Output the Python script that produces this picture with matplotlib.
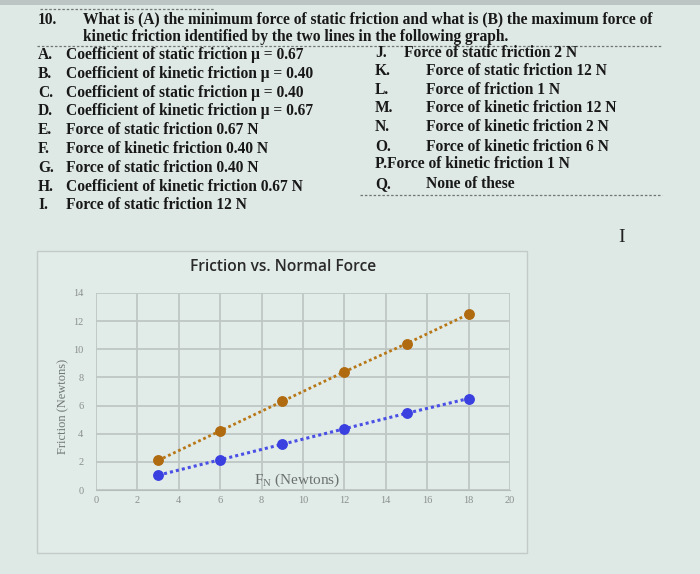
import matplotlib
matplotlib.use("Agg")
import matplotlib.pyplot as plt
from matplotlib.lines import Line2D
from matplotlib.patches import Rectangle

# ---- data ----
normal_force = [3, 6, 9, 12, 15, 18]
static_friction = [2.1, 4.2, 6.3, 8.4, 10.4, 12.5]
kinetic_friction = [1.05, 2.15, 3.25, 4.35, 5.45, 6.5]
x_ticks = [0, 2, 4, 6, 8, 10, 12, 14, 16, 18, 20]
y_ticks = [0, 2, 4, 6, 8, 10, 12, 14]

question_num = "10."
question_lines = [
    "What is (A) the minimum force of static friction and what is (B) the maximum force of",
    "kinetic friction identified by the two lines in the following graph.",
]
left_letters = ["A.", "B.", "C.", "D.", "E.", "F.", "G.", "H.", "I."]
left_texts = [
    "Coefficient of static friction \u03bc = 0.67",
    "Coefficient of kinetic friction \u03bc = 0.40",
    "Coefficient of static friction \u03bc = 0.40",
    "Coefficient of kinetic friction \u03bc = 0.67",
    "Force of static friction 0.67 N",
    "Force of kinetic friction 0.40 N",
    "Force of static friction 0.40 N",
    "Coefficient of kinetic friction 0.67 N",
    "Force of static friction 12 N",
]
right_letters = ["J.", "K.", "L.", "M.", "N.", "O.", "", "Q."]
right_texts = [
    "Force of static friction 2 N",
    "Force of static friction 12 N",
    "Force of friction 1 N",
    "Force of kinetic friction 12 N",
    "Force of kinetic friction 2 N",
    "Force of kinetic friction 6 N",
    "P.Force of kinetic friction 1 N",
    "None of these",
]

W, H = 700, 574
bg = "#dee8e5"
fig = plt.figure(figsize=(7, 5.74), dpi=100, facecolor=bg)

def fx(px):
    return px / W

def fy(py):
    return 1 - py / H

serif = ["Liberation Serif", "DejaVu Serif"]
tc = "#181818"
fs = 11.2
fw = "bold"

# top shading band
fig.patches.append(Rectangle((0, fy(5)), 1, 5 / H, transform=fig.transFigure,
                             facecolor="#bcc5c3", edgecolor="none", zorder=-2))

def T(px, py, s, **kw):
    fig.text(fx(px), fy(py), s, family=serif, fontsize=fs, color=tc, va="center",
             fontweight=fw, **kw)

# question text
T(38, 20, question_num)
T(83, 19, question_lines[0])
T(83, 37, question_lines[1])

# dotted rules
for (x0, x1, y) in [(40, 215, 9), (37, 662, 46), (360, 662, 195)]:
    fig.lines.append(Line2D([fx(x0), fx(x1)], [fy(y), fy(y)], transform=fig.transFigure,
                            color="#6f7775", lw=0.9, linestyle=(0, (2, 1.5))))

y0, dy = 55, 18.8
for i, (l, t) in enumerate(zip(left_letters, left_texts)):
    T(38, y0 + i * dy, l)
    T(66, y0 + i * dy, t)

ry = [53, 71, 90, 108, 127, 147, 164, 184]
for i, (l, t) in enumerate(zip(right_letters, right_texts)):
    if i == 0:
        T(375, ry[i], l)
        T(404, ry[i], t)
    elif l == "":
        T(375, ry[i], t)
    else:
        T(375, ry[i], l)
        T(426, ry[i], t)

# cursor glyph
fig.text(fx(622), fy(238), "I", family=serif, fontsize=14, color="#222222",
         ha="center", va="center")

# chart frame
fig.patches.append(Rectangle((fx(37), fy(553)), fx(527) - fx(37), fy(251) - fy(553),
                             transform=fig.transFigure, facecolor="#e1ebe8",
                             edgecolor="#c3cbc9", lw=1.0, zorder=-1))

ax = fig.add_axes([fx(96), fy(490), fx(510) - fx(96), fy(293) - fy(490)])
ax.set_zorder(2)
ax.set_facecolor("none")
ax.set_xlim(0, 20)
ax.set_ylim(0, 14)
ax.set_xticks(x_ticks)
ax.set_yticks(y_ticks)
ax.grid(True, color="#bfc7c5", lw=1.3)
ax.set_axisbelow(True)
for s in ["top", "right", "left"]:
    ax.spines[s].set_visible(False)
ax.spines["bottom"].set_color("#b5bdbb")
ax.tick_params(axis="x", length=0, labelsize=7.5, labelcolor="#8a908e", pad=4)
ax.tick_params(axis="y", length=0, labelsize=7.5, labelcolor="#8a908e", pad=9)
for lab in ax.get_xticklabels() + ax.get_yticklabels():
    lab.set_family(serif)

ax.plot(normal_force, static_friction, linestyle=(0, (1, 1)), lw=2.0, color="#b87716",
        marker="o", markersize=6.8, markerfacecolor="#b06a10", markeredgecolor="#b06a10")
ax.plot(normal_force, kinetic_friction, linestyle=(0, (1, 1)), lw=2.2, color="#4a50e6",
        marker="o", markersize=6.8, markerfacecolor="#3a3fe0", markeredgecolor="#3a3fe0")

fig.text(fx(283), fy(267), "Friction vs. Normal Force", family=["Open Sans", "DejaVu Sans"],
         fontsize=11.2, fontweight="semibold", color="#2a2a2a", ha="center", va="center")
fig.text(fx(63), fy(406), "Friction (Newtons)", family=serif, fontsize=9, color="#6f7774",
         rotation=90, ha="center", va="center")
plt.rcParams["mathtext.fontset"] = "custom"
plt.rcParams["mathtext.rm"] = "Liberation Serif"
fig.text(fx(297), fy(480), r"F$_{\mathrm{N}}$ (Newtons)", family=serif, fontsize=11,
         color="#6b716f", ha="center", va="center")

fig.savefig("out.png", dpi=100, facecolor=bg)
